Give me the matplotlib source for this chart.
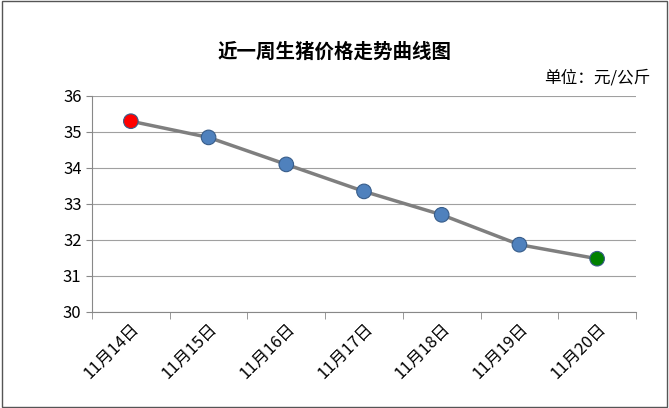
import matplotlib
matplotlib.use("Agg")
import matplotlib.pyplot as plt
import numpy as np

plt.rcParams['font.family'] = ['Noto Sans CJK SC', 'DejaVu Sans']

dates = ["11月14日", "11月15日", "11月16日", "11月17日", "11月18日", "11月19日", "11月20日"]
prices = [35.3, 34.85, 34.1, 33.35, 32.7, 31.87, 31.48]
colors = ["#ff0000", "#4f81bd", "#4f81bd", "#4f81bd", "#4f81bd", "#4f81bd", "#008000"]

fig = plt.figure(figsize=(6.69, 4.08), dpi=100)
fig.patches.append(plt.Rectangle((0.003, 0.003), 0.994, 0.994, transform=fig.transFigure,
                                 fill=False, edgecolor="#555555", lw=1))
ax = fig.add_axes([92 / 669, 1 - 312 / 408, 544 / 669, 216 / 408])

x = np.arange(len(dates))
ax.plot(x, prices, color="#7f7f7f", lw=2.5, zorder=2)
ax.scatter(x, prices, s=110, c=colors, edgecolors="#385d8a", linewidths=0.8, zorder=3)

ax.set_xlim(-0.5, len(dates) - 0.5)
ax.set_ylim(30, 36)
ax.set_yticks(range(30, 37))
ax.yaxis.grid(True, color="#a0a0a0", lw=0.8)
ax.set_axisbelow(True)
ax.set_xticks(x)
ax.set_xticklabels(dates, rotation=45, ha="right", rotation_mode="anchor", fontsize=12)
ax.set_xticks(np.arange(-0.5, len(dates)), minor=True)
ax.tick_params(axis="x", which="major", length=0, pad=6)
ax.tick_params(axis="x", which="minor", length=5, color="#888888")
ax.tick_params(axis="y", labelsize=12, length=4, color="#888888")
for s in ["top", "right"]:
    ax.spines[s].set_visible(False)
for s in ["left", "bottom"]:
    ax.spines[s].set_color("#888888")

fig.text(0.5, 1 - 52 / 408, "近一周生猪价格走势曲线图", ha="center", va="center",
         fontsize=14, fontweight="bold")
fig.text(650 / 669, 1 - 78 / 408, "单位：元/公斤", ha="right", va="center", fontsize=12)

fig.savefig("out.png", dpi=100)
